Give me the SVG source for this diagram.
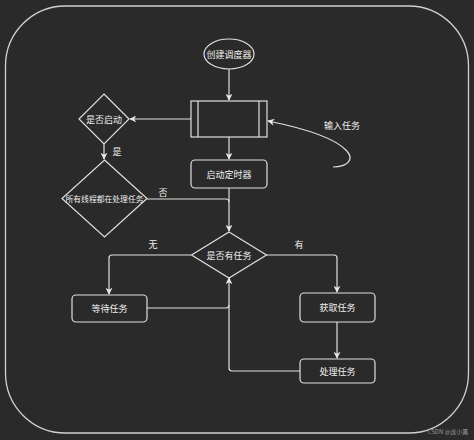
<svg xmlns="http://www.w3.org/2000/svg" width="474" height="440" viewBox="0 0 474 440">
<defs>
<marker id="arr" viewBox="0 0 10 10" refX="9" refY="5" markerWidth="7" markerHeight="7" markerUnits="userSpaceOnUse" orient="auto">
<path d="M0,0 L10,5 L0,10 L3,5 Z" fill="#e8e8e8"/>
</marker>
</defs>
<style>
.s{fill:none;stroke:#e0e0e0;stroke-width:1.2}
.n{fill:#2a2a2a;stroke:#e0e0e0;stroke-width:1.2}
.t{font-family:"Noto Sans CJK SC","Liberation Sans",sans-serif;font-size:9px;fill:#f0f0f0;text-anchor:middle;dominant-baseline:central}
</style>
<rect x="0" y="0" width="474" height="440" fill="#2a2a2a"/>
<rect x="5.5" y="6" width="463" height="427" rx="60" ry="60" fill="none" stroke="#d0d0d0" stroke-width="1.3"/>
<g id="connectors">
<path class="s" d="M229 69 V100" marker-end="url(#arr)"/>
<path class="s" d="M229 137 V159" marker-end="url(#arr)"/>
<path class="s" d="M191 119 H130" marker-end="url(#arr)"/>
<path class="s" d="M104 144 V159" marker-end="url(#arr)"/>
<path class="s" d="M229 188 V231" marker-end="url(#arr)"/>
<path class="s" d="M147 199 H226 Q229 199 229 202"/>
<path class="s" d="M191 255 H112 Q109 255 109 258 V294" marker-end="url(#arr)"/>
<path class="s" d="M266 255 H334 Q337 255 337 258 V292" marker-end="url(#arr)"/>
<path class="s" d="M337 322 V358" marker-end="url(#arr)"/>
<path class="s" d="M147 308 H226 Q229 308 229 305"/>
<path class="s" d="M300 371 H232 Q229 371 229 368 V278" marker-end="url(#arr)"/>
<path class="s" d="M333 167 C362 166 362 140 268 121" marker-end="url(#arr)"/>
<text class="t" x="117" y="151">是</text>
<text class="t" x="163" y="192">否</text>
<text class="t" x="153" y="244">无</text>
<text class="t" x="299" y="244">有</text>
<text class="t" x="342" y="125">输入任务</text>
</g>
<g id="start">
<ellipse class="n" cx="229" cy="54" rx="25" ry="15"/>
<text class="t" x="229" y="54">创建调度器</text>
</g>
<g id="scheduler">
<rect class="n" x="191" y="101" width="76" height="36"/>
<line class="s" x1="198" y1="101" x2="198" y2="137"/>
<line class="s" x1="259" y1="101" x2="259" y2="137"/>
</g>
<g id="timer">
<rect class="n" x="191" y="160" width="76" height="28" rx="4"/>
<text class="t" x="229" y="174">启动定时器</text>
</g>
<g id="started">
<polygon class="n" points="104,94 129,119 104,144 79,119"/>
<text class="t" x="104" y="119">是否启动</text>
</g>
<g id="allbusy">
<polygon class="n" points="104.5,160 147,198.5 104.5,237 62,198.5"/>
<text class="t" x="104.5" y="198.5" style="font-size:7.8px">所有线程都在处理任务</text>
</g>
<g id="hastask">
<polygon class="n" points="229,232 266.5,255 229,278 191.5,255"/>
<text class="t" x="229" y="255">是否有任务</text>
</g>
<g id="wait">
<rect class="n" x="72" y="295" width="75" height="27" rx="4"/>
<text class="t" x="109.5" y="308.5">等待任务</text>
</g>
<g id="fetch">
<rect class="n" x="300" y="293" width="75" height="29" rx="4"/>
<text class="t" x="337.5" y="307.5">获取任务</text>
</g>
<g id="process">
<rect class="n" x="300" y="359" width="75" height="24" rx="4"/>
<text class="t" x="337.5" y="371">处理任务</text>
</g>
<text x="448" y="434" font-family="Noto Sans CJK SC, Liberation Sans, sans-serif" font-size="6" fill="#9a9a9a" text-anchor="middle">CSDN @虎小黑</text>
</svg>
